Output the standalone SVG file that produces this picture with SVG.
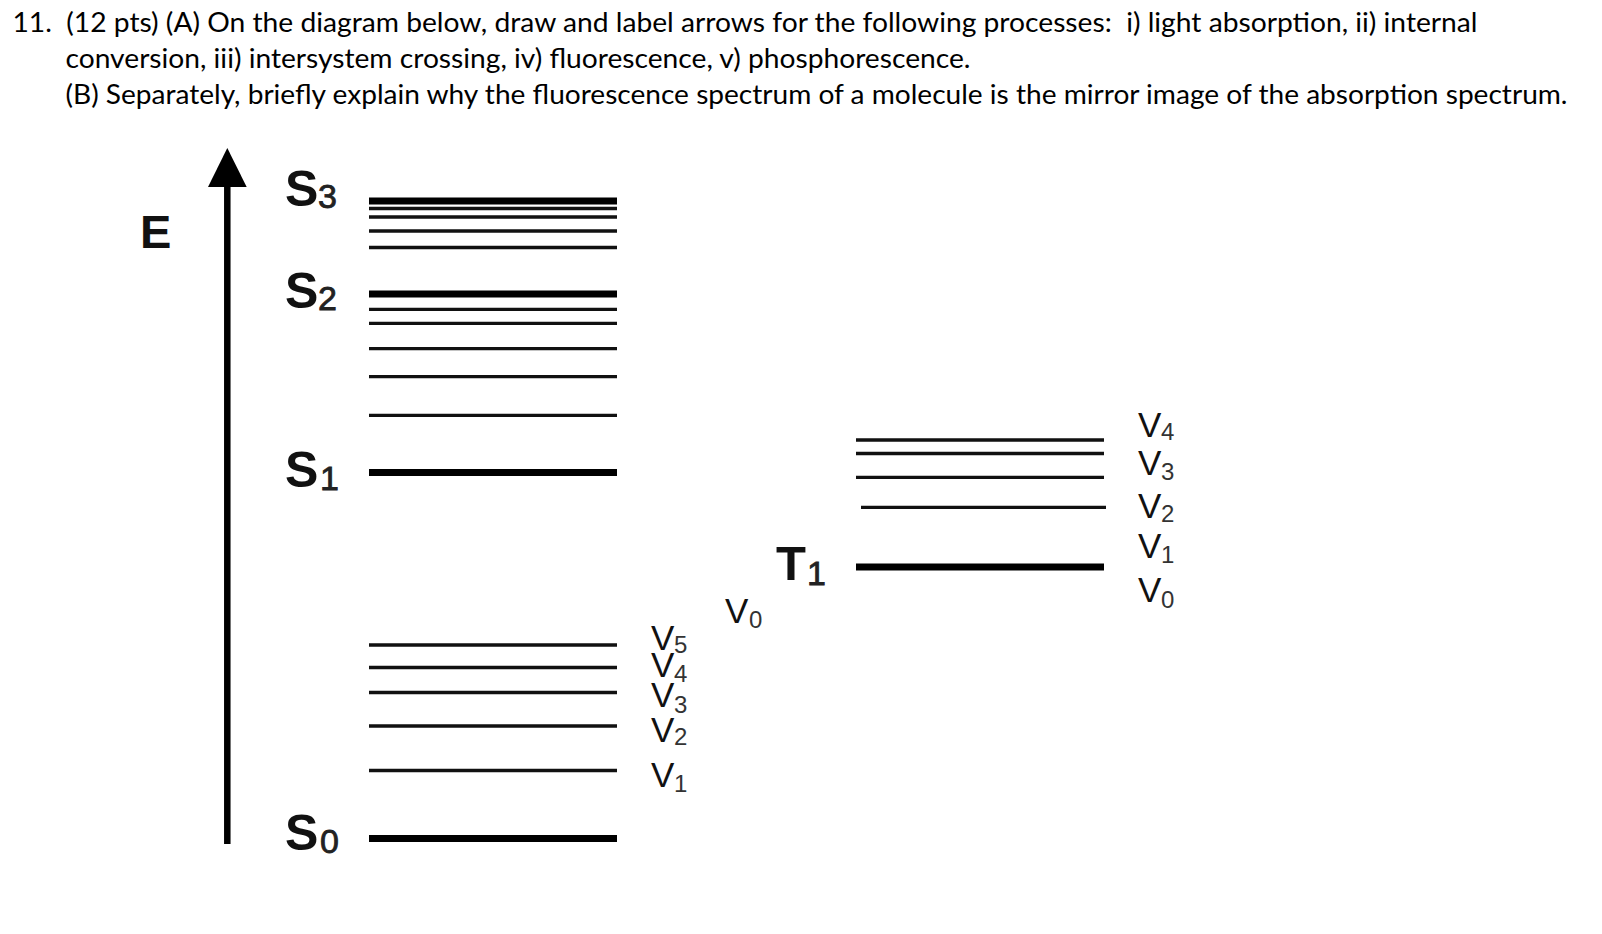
<svg xmlns="http://www.w3.org/2000/svg" width="1602" height="934" viewBox="0 0 1602 934">
<style>
.q{font-family:Lato,"Open Sans","Liberation Sans",sans-serif;font-size:27px;fill:#000;white-space:pre}
.lbl{font-family:"Liberation Sans",Arial,sans-serif;font-weight:bold;font-size:50px;fill:#111}
.sub{font-family:"Liberation Sans",Arial,sans-serif;font-size:34px;fill:#222;stroke:#222;stroke-width:0.8}
.v{font-family:"Liberation Sans",Arial,sans-serif;font-size:35px;fill:#111}
.vs{font-family:"Liberation Sans",Arial,sans-serif;font-size:24px;fill:#333}
.thick{stroke:#000;stroke-width:7;stroke-linecap:butt}
.thin{stroke:#111;stroke-width:3.3;stroke-linecap:butt}
</style>
<rect width="1602" height="934" fill="#fff"/>
<g id="question">
<text class="q" x="12.5" y="32" textLength="1465" lengthAdjust="spacingAndGlyphs">11.  (12 pts) (A) On the diagram below, draw and label arrows for the following processes:  i) light absorption, ii) internal</text>
<text class="q" x="65.5" y="68" textLength="905" lengthAdjust="spacingAndGlyphs">conversion, iii) intersystem crossing, iv) fluorescence, v) phosphorescence.</text>
<text class="q" x="65.5" y="104" textLength="1502" lengthAdjust="spacingAndGlyphs">(B) Separately, briefly explain why the fluorescence spectrum of a molecule is the mirror image of the absorption spectrum.</text>
</g>
<g id="connectors">
<g id="energy-axis">
<line x1="227.3" y1="184" x2="227.3" y2="844" stroke="#000" stroke-width="6.5"/>
<polygon points="227.3,148 246.7,187 208,187" fill="#000"/>
</g>
</g>
<g id="E-label"><text class="lbl" x="140" y="248" style="font-size:47px">E</text></g>
<g id="S3">
<line class="thick" x1="369" y1="201" x2="617" y2="201"/>
<line class="thin" x1="369" y1="208.5" x2="617" y2="208.5"/>
<line class="thin" x1="369" y1="217" x2="617" y2="217"/>
<line class="thin" x1="369" y1="231" x2="617" y2="231"/>
<line class="thin" x1="369" y1="247.5" x2="617" y2="247.5"/>
<text class="lbl" x="285" y="206">S</text><text class="sub" x="318" y="208">3</text>
</g>
<g id="S2">
<line class="thick" x1="369" y1="294" x2="617" y2="294"/>
<line class="thin" x1="369" y1="309.3" x2="617" y2="309.3"/>
<line class="thin" x1="369" y1="323.3" x2="617" y2="323.3"/>
<line class="thin" x1="369" y1="348.7" x2="617" y2="348.7"/>
<line class="thin" x1="369" y1="376.7" x2="617" y2="376.7"/>
<line class="thin" x1="369" y1="415.3" x2="617" y2="415.3"/>
<text class="lbl" x="285" y="308">S</text><text class="sub" x="318" y="310">2</text>
</g>
<g id="S1">
<line class="thick" x1="369" y1="472.5" x2="617" y2="472.5"/>
<text class="lbl" x="285" y="486.5">S</text><text class="sub" x="320" y="489.5">1</text>
</g>
<g id="S0">
<line class="thin" x1="369" y1="645" x2="617" y2="645"/>
<line class="thin" x1="369" y1="667.5" x2="617" y2="667.5"/>
<line class="thin" x1="369" y1="692.5" x2="617" y2="692.5"/>
<line class="thin" x1="369" y1="726" x2="617" y2="726"/>
<line class="thin" x1="369" y1="770.5" x2="617" y2="770.5"/>
<line class="thick" x1="369" y1="838.5" x2="617" y2="838.5"/>
<text class="lbl" x="285" y="850">S</text><text class="sub" x="320" y="853">0</text>
</g>
<g id="S0-vib-labels">
<text class="v" x="651" y="650">V</text><text class="vs" x="674" y="653">5</text>
<text class="v" x="651" y="677">V</text><text class="vs" x="674" y="682">4</text>
<text class="v" x="651" y="707">V</text><text class="vs" x="674" y="713">3</text>
<text class="v" x="651" y="742">V</text><text class="vs" x="674" y="745">2</text>
<text class="v" x="651" y="787">V</text><text class="vs" x="674" y="792">1</text>
<text class="v" x="725" y="623">V</text><text class="vs" x="749" y="628">0</text>
</g>
<g id="T1">
<line class="thin" x1="856" y1="440" x2="1104" y2="440"/>
<line class="thin" x1="856" y1="453.5" x2="1104" y2="453.5"/>
<line class="thin" x1="856" y1="477.3" x2="1104" y2="477.3"/>
<line class="thin" x1="861" y1="507.3" x2="1106" y2="507.3"/>
<line class="thick" x1="856" y1="567" x2="1104" y2="567"/>
<text class="lbl" x="776" y="580" style="font-size:49px">T</text><text class="sub" x="807" y="585">1</text>
</g>
<g id="T1-vib-labels">
<text class="v" x="1138" y="437">V</text><text class="vs" x="1161" y="440">4</text>
<text class="v" x="1138" y="475">V</text><text class="vs" x="1161" y="480">3</text>
<text class="v" x="1138" y="518">V</text><text class="vs" x="1161" y="521.5">2</text>
<text class="v" x="1138" y="558">V</text><text class="vs" x="1161" y="563">1</text>
<text class="v" x="1138" y="601.5">V</text><text class="vs" x="1161" y="608">0</text>
</g>
</svg>
